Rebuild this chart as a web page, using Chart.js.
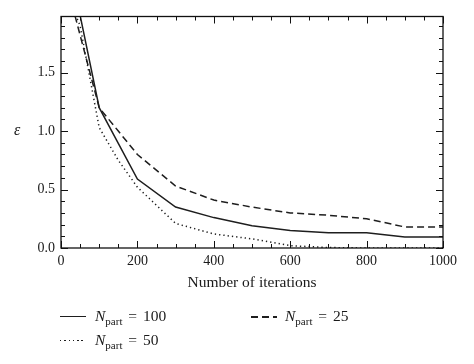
<!DOCTYPE html>
<html>
<head>
<meta charset="utf-8">
<script src="https://cdn.jsdelivr.net/npm/chart.js@4/dist/chart.umd.min.js"></script>
<style>
  html, body { margin: 0; padding: 0; background: #fff; }
  #wrap { position: relative; width: 474px; height: 364px; font-family: "Liberation Serif", "DejaVu Serif", serif; color: #1a1a1a; }
  #c { position: absolute; left: 0; top: 0; }
  .eps { position: absolute; left: 14px; top: 121px; font-style: italic; font-size: 16px; }
  .leg { position: absolute; font-size: 15.5px; white-space: nowrap; line-height: 16px; word-spacing: 2px; }
  .leg i { font-style: italic; }
  .leg sub { font-size: 11px; vertical-align: -4px; line-height: 0; }
  .sample { position: absolute; width: 26px; height: 0; }
</style>
</head>
<body>
<div id="wrap">
  <canvas id="c" width="474" height="364"></canvas>
  <div class="eps">ε</div>
  <div id="legend"></div>
</div>
<script>
// ---- data ----
const iterations = [0, 50, 100, 150, 200, 300, 400, 500, 600, 700, 800, 900, 1000];
const npart100 = [2.78, 1.99, 1.20, 0.895, 0.59, 0.35, 0.26, 0.19, 0.15, 0.13, 0.13, 0.095, 0.095];
const npart50  = [2.30, 1.90, 1.03, 0.75, 0.52, 0.21, 0.12, 0.078, 0.02, 0.004, 0.0, 0.0, 0.0];
const npart25  = [2.44, 1.82, 1.20, 1.00, 0.80, 0.53, 0.41, 0.35, 0.30, 0.28, 0.25, 0.18, 0.18];
const seriesNames = ['100', '50', '25'];
const xTickLabels = [0, 200, 400, 600, 800, 1000];
const yTickLabels = ['0.0', '0.5', '1.0', '1.5'];

const lineColor = '#1e1e1e';
function pts(vals) { return iterations.map((x, i) => ({ x: x, y: vals[i] })); }

const frameTicks = {
  id: 'frameTicks',
  afterDatasetsDraw(chart) {
    const { ctx, chartArea: a, scales: { x, y } } = chart;
    ctx.save();
    ctx.strokeStyle = '#111';
    ctx.lineWidth = 1.3;
    ctx.strokeRect(a.left, a.top, a.right - a.left, a.bottom - a.top);
    ctx.lineWidth = 1;
    ctx.beginPath();
    for (let v = 0; v <= 1000; v += 50) {
      const px = Math.round(x.getPixelForValue(v)) + 0.5;
      const len = (v % 200 === 0) ? 7 : 4;
      ctx.moveTo(px, a.bottom); ctx.lineTo(px, a.bottom - len);
      ctx.moveTo(px, a.top); ctx.lineTo(px, a.top + len);
    }
    for (let k = 0; k <= 19; k++) {
      const v = k / 10;
      if (v > y.max) break;
      const py = Math.round(y.getPixelForValue(v)) + 0.5;
      const len = (k % 5 === 0) ? 7 : 4;
      ctx.moveTo(a.left, py); ctx.lineTo(a.left + len, py);
      ctx.moveTo(a.right, py); ctx.lineTo(a.right - len, py);
    }
    ctx.stroke();
    ctx.restore();
  }
};

const chart = new Chart(document.getElementById('c'), {
  type: 'line',
  data: {
    datasets: [
      { label: seriesNames[0], data: pts(npart100), borderColor: lineColor, borderWidth: 1.5, pointRadius: 0, tension: 0, fill: false },
      { label: seriesNames[1], data: pts(npart50), borderColor: lineColor, borderWidth: 1.5, borderDash: [1.3, 3], pointRadius: 0, tension: 0, fill: false },
      { label: seriesNames[2], data: pts(npart25), borderColor: lineColor, borderWidth: 1.5, borderDash: [7, 4], pointRadius: 0, tension: 0, fill: false }
    ]
  },
  options: {
    responsive: false,
    animation: false,
    devicePixelRatio: 1,
    layout: { padding: { left: 0, top: 16.5, right: 31, bottom: 71.6 } },
    plugins: { legend: { display: false }, tooltip: { enabled: false } },
    scales: {
      x: {
        type: 'linear', min: 0, max: 1000,
        grid: { display: false, drawTicks: false },
        border: { display: false },
        ticks: {
          stepSize: 200, padding: 5, color: '#1a1a1a', maxRotation: 0,
          font: { family: 'Liberation Serif', size: 14 },
          callback: (v) => xTickLabels.includes(v) ? String(v) : ''
        },
        title: { display: true, text: 'Number of iterations', color: '#1a1a1a', padding: 0,
                 font: { family: 'Liberation Serif', size: 15.5 } },
        afterFit: (s) => { s.height = 44.4; }
      },
      y: {
        type: 'linear', min: 0, max: 1.98,
        grid: { display: false, drawTicks: false },
        border: { display: false },
        ticks: {
          stepSize: 0.5, includeBounds: false, padding: 6, color: '#1a1a1a',
          font: { family: 'Liberation Serif', size: 14 },
          callback: (v) => { const s = Number(v).toFixed(1); return yTickLabels.includes(s) ? s : ''; }
        },
        afterFit: (s) => { s.width = 61; }
      }
    }
  },
  plugins: [frameTicks]
});

// ---- HTML legend (subscripts as real text) ----
const legendSpec = [
  { name: seriesNames[0], style: 'solid',  lx: 60,  ly: 317, tx: 95 },
  { name: seriesNames[2], style: 'dashed', lx: 251, ly: 317, tx: 285 },
  { name: seriesNames[1], style: 'dotted', lx: 60,  ly: 341, tx: 95 }
];
const legend = document.getElementById('legend');
legendSpec.forEach(it => {
  const s = document.createElement('div');
  s.className = 'sample';
  s.style.left = it.lx + 'px';
  s.style.top = (it.ly - 1) + 'px';
  if (it.style === 'solid') s.style.borderTop = '1.6px solid ' + lineColor;
  if (it.style === 'dashed') { s.style.height = '1.6px'; s.style.background = 'repeating-linear-gradient(90deg,' + lineColor + ' 0 7px, transparent 7px 11px)'; }
  if (it.style === 'dotted') { s.style.height = '1.3px'; s.style.background = 'repeating-linear-gradient(90deg,' + lineColor + ' 0 1.3px, transparent 1.3px 4.3px)'; }
  legend.appendChild(s);
  const t = document.createElement('div');
  t.className = 'leg';
  t.style.left = it.tx + 'px';
  t.style.top = (it.ly - 9) + 'px';
  t.innerHTML = '<i>N</i><sub>part</sub> = ' + it.name;
  legend.appendChild(t);
});
</script>
</body>
</html>
